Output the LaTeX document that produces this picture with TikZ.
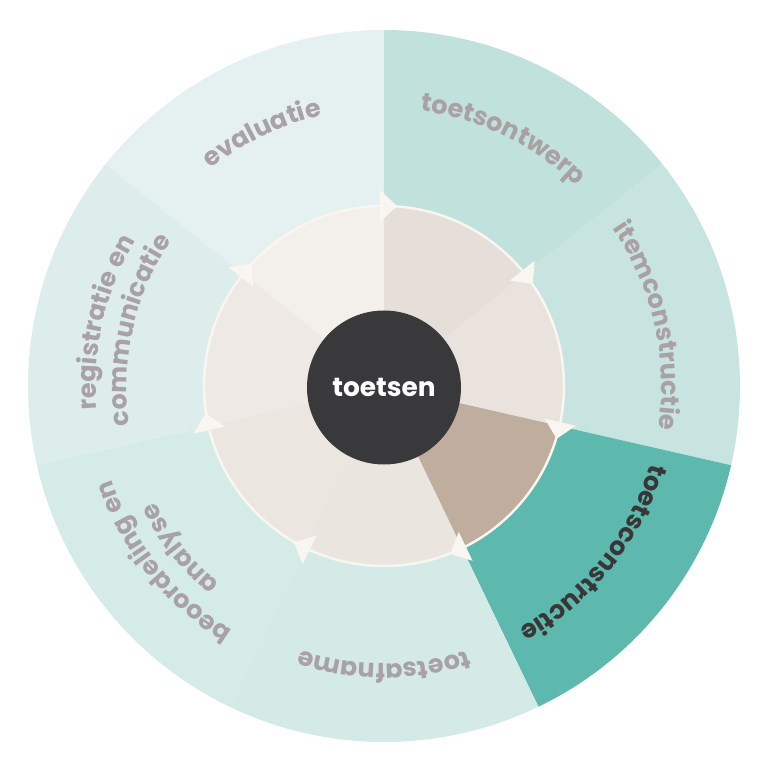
\documentclass[tikz,border=0pt]{standalone}
\usepackage{fontspec}
\setmainfont{Poppins}
\usepackage{tikz}
\usetikzlibrary{decorations.text}
\usepackage{xcolor}

\definecolor{ringontwerp}{HTML}{C0E1DC}
\definecolor{ringitem}{HTML}{C7E4E0}
\definecolor{ringconstr}{HTML}{5DB8AD}
\definecolor{ringafname}{HTML}{D3EAE6}
\definecolor{ringanalyse}{HTML}{D5EBE7}
\definecolor{ringregistr}{HTML}{DCEDEC}
\definecolor{ringevaluatie}{HTML}{E5F1F0}
\definecolor{coreA}{HTML}{E6DED8}
\definecolor{coreB}{HTML}{E9E2DD}
\definecolor{coreC}{HTML}{BFAE9D}
\definecolor{coreD}{HTML}{EBE5E0}
\definecolor{coreE}{HTML}{ECE6E1}
\definecolor{coreF}{HTML}{EEE9E4}
\definecolor{coreG}{HTML}{F3EFEA}
\definecolor{rim}{HTML}{F9F6F1}
\definecolor{hubgray}{HTML}{39383A}
\definecolor{labelgray}{HTML}{A9A1A4}
\definecolor{labeldark}{HTML}{3A3536}

\newcommand{\labelfmt}{\bfseries\fontsize{14.5}{17}\selectfont}

\begin{document}
\begin{tikzpicture}[
    x=1cm, y=1cm,
    label/.style={
        decorate,
        decoration={text along path, text align=center,
            text={|\labelfmt\color{labelgray}|#1}}
    },
    labeldk/.style={
        decorate,
        decoration={text along path, text align=center,
            text={|\labelfmt\color{labeldark}|#1}}
    },
    tip/.style={fill=rim}
]
\useasboundingbox (-7.68,-7.64) rectangle (7.68,7.72);

% outer ring
\fill[ringontwerp] (0,0) -- (90:7.12) arc[start angle=90, end angle=38.57, radius=7.12] -- cycle;
\fill[ringitem] (0,0) -- (38.57:7.12) arc[start angle=38.57, end angle=-12.86, radius=7.12] -- cycle;
\fill[ringconstr] (0,0) -- (-12.86:7.12) arc[start angle=-12.86, end angle=-64.29, radius=7.12] -- cycle;
\fill[ringafname] (0,0) -- (-64.29:7.12) arc[start angle=-64.29, end angle=-115.71, radius=7.12] -- cycle;
\fill[ringanalyse] (0,0) -- (-115.71:7.12) arc[start angle=-115.71, end angle=-167.14, radius=7.12] -- cycle;
\fill[ringregistr] (0,0) -- (192.86:7.12) arc[start angle=192.86, end angle=141.43, radius=7.12] -- cycle;
\fill[ringevaluatie] (0,0) -- (141.43:7.12) arc[start angle=141.43, end angle=90, radius=7.12] -- cycle;

% inner disc
\fill[coreA] (0,0) -- (90:3.6) arc[start angle=90, end angle=38.57, radius=3.6] -- cycle;
\fill[coreB] (0,0) -- (38.57:3.6) arc[start angle=38.57, end angle=-12.86, radius=3.6] -- cycle;
\fill[coreC] (0,0) -- (-12.86:3.6) arc[start angle=-12.86, end angle=-64.29, radius=3.6] -- cycle;
\fill[coreD] (0,0) -- (-64.29:3.6) arc[start angle=-64.29, end angle=-115.71, radius=3.6] -- cycle;
\fill[coreE] (0,0) -- (-115.71:3.6) arc[start angle=-115.71, end angle=-167.14, radius=3.6] -- cycle;
\fill[coreF] (0,0) -- (192.86:3.6) arc[start angle=192.86, end angle=141.43, radius=3.6] -- cycle;
\fill[coreG] (0,0) -- (141.43:3.6) arc[start angle=141.43, end angle=90, radius=3.6] -- cycle;
\draw[rim, line width=1.4pt] (0,0) circle[radius=3.6];

% arrow tips on the rim
\fill[tip, rotate=90] (3.28,0.08) -- (3.92,0.08) -- (3.6,-0.26) -- cycle;
\fill[tip, rotate=38.57] (3.28,0.08) -- (3.92,0.08) -- (3.6,-0.26) -- cycle;
\fill[tip, rotate=-12.86] (3.28,0.08) -- (3.92,0.08) -- (3.6,-0.26) -- cycle;
\fill[tip, rotate=-64.29] (3.28,0.08) -- (3.92,0.08) -- (3.6,-0.26) -- cycle;
\fill[tip, rotate=-115.71] (3.28,0.08) -- (3.92,0.08) -- (3.6,-0.26) -- cycle;
\fill[tip, rotate=-167.14] (3.28,0.08) -- (3.92,0.08) -- (3.6,-0.26) -- cycle;
\fill[tip, rotate=141.43] (3.28,0.08) -- (3.92,0.08) -- (3.6,-0.26) -- cycle;

% centre
\node[circle, fill=hubgray, minimum size=3.08cm, text=white,
      font=\bfseries\fontsize{15}{18}\selectfont] (hub) at (0,-0.03) {toetsen};

% labels on the ring
\path[label={toetsontwerp}] (94.29:5.55) arc[start angle=94.29, end angle=34.29, radius=5.55];
\path[label={itemconstructie}] (47.86:5.55) arc[start angle=47.86, end angle=-22.14, radius=5.55];
\path[labeldk={toetsconstructie}] (-3.57:5.55) arc[start angle=-3.57, end angle=-73.57, radius=5.55];
\path[label={toetsafname}] (-60:5.55) arc[start angle=-60, end angle=-120, radius=5.55];
\path[label={beoordeling en}] (-106.43:5.76) arc[start angle=-106.43, end angle=-176.43, radius=5.76];
\path[label={analyse}] (-106.43:5.14) arc[start angle=-106.43, end angle=-176.43, radius=5.14];
\path[label={registratie en}] (202.14:5.76) arc[start angle=202.14, end angle=132.14, radius=5.76];
\path[label={communicatie}] (202.14:5.14) arc[start angle=202.14, end angle=132.14, radius=5.14];
\path[label={evaluatie}] (145.71:5.55) arc[start angle=145.71, end angle=85.71, radius=5.55];
\end{tikzpicture}
\end{document}
